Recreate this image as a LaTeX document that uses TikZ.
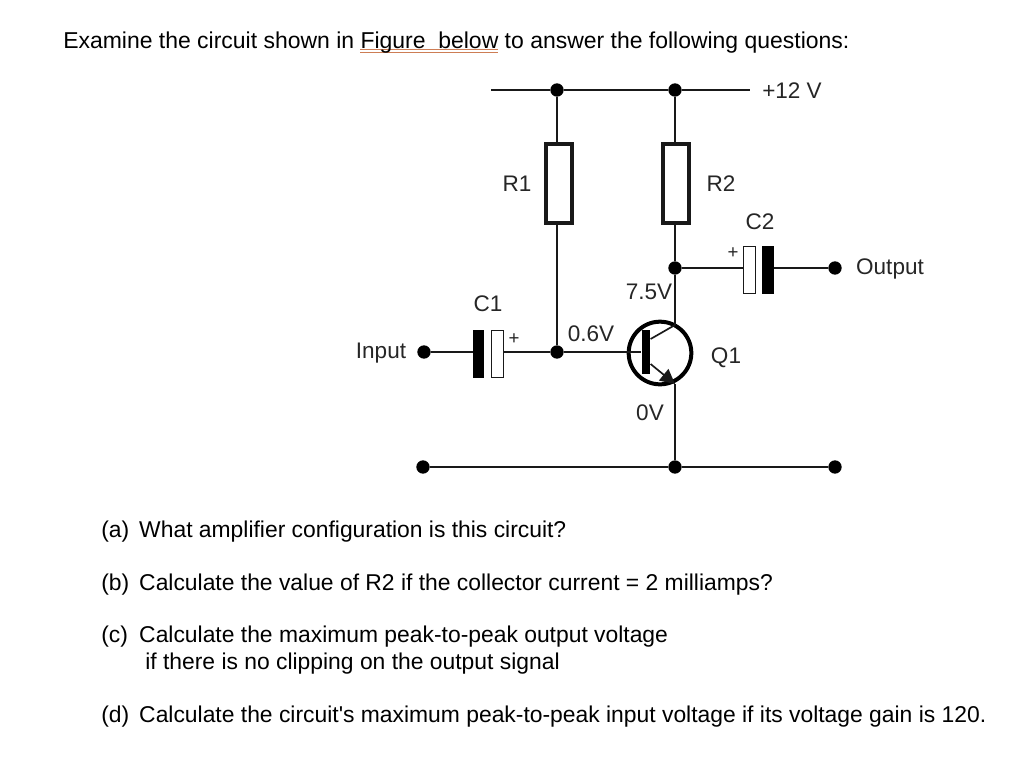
\documentclass[tikz,border=0pt]{standalone}
\usepackage{fontspec}
\setmainfont{Liberation Sans}
\newfontfamily\plainapos{Liberation Sans}
\usetikzlibrary{arrows.meta}
\definecolor{squig}{RGB}{205,125,85}
\tikzset{
  x=0.75pt,y=-0.75pt,
  wire/.style={line width=1.25pt,draw=black!90},
  dotn/.style={circle,fill=black,inner sep=0pt,minimum size=10pt},
  res/.style={rectangle,draw=black!90,line width=3pt,fill=white,minimum width=20pt,minimum height=59pt,inner sep=0pt},
  whiteplate/.style={rectangle,draw=black!90,line width=0.9pt,fill=white,minimum width=9pt,minimum height=35pt,inner sep=0pt},
  blackplate/.style={rectangle,fill=black,minimum width=8.5pt,minimum height=36pt,inner sep=0pt},
  lab/.style={inner sep=0pt,text=black!85,font=\fontsize{16.9}{18}\selectfont},
  para/.style={inner sep=0pt,anchor=base west,text=black,font=\fontsize{17.15}{18}\selectfont},
}
\newcommand{\qtag}[1]{\makebox[28.5pt][l]{#1}}
\begin{document}
\begin{tikzpicture}
\useasboundingbox (0,0) rectangle (1024,779);
\fill[white] (0,0) rectangle (1024,779);

% underline beneath the text
\coordinate (ua) at (360,49); \coordinate (ub) at (498,49);
\coordinate (uc) at (360,52); \coordinate (ud) at (498,52);
\draw[line width=0.7pt,draw=squig] (ua) -- (ub);
\draw[line width=0.7pt,draw=squig] (uc) -- (ud);

% text
\node[para,font=\fontsize{17.22}{18}\selectfont] (t0) at (63,48) {Examine the circuit shown in Figure\ \ below to answer the following questions:};
\node[para] (qa) at (101,537) {\qtag{(a)}What amplifier configuration is this circuit?};
\node[para] (qb) at (101,590) {\qtag{(b)}Calculate the value of R2 if the collector current = 2 milliamps?};
\node[para] (qc) at (101,642) {\qtag{(c)}Calculate the maximum peak-to-peak output voltage};
\node[para] (qc2) at (145,669) {if there is no clipping on the output signal};
\node[para] (qd) at (101,722) {\qtag{(d)}Calculate the circuit{\plainapos '}s maximum peak-to-peak input voltage if its voltage gain is 120.};

% rails
\coordinate (railL) at (491,90);
\coordinate (railR) at (750,90);
\node[dotn] (top1) at (557,90) {};
\node[dotn] (top2) at (675,90) {};
\draw[wire] (railL) -- (top1) -- (top2) -- (railR);
\node[dotn] (gndL) at (423,467) {};
\node[dotn] (gndM) at (675,467) {};
\node[dotn] (gndR) at (835,467) {};
\draw[wire] (gndL) -- (gndM) -- (gndR);

% junctions and terminals
\node[dotn] (base) at (557,352) {};
\node[dotn] (coll) at (675,268) {};
\node[dotn] (inp) at (424,352) {};
\node[dotn] (out) at (835,268) {};

% resistors
\node[res] (R1) at (559,183.5) {};
\node[res] (R2) at (676,183.5) {};
\draw[wire] (top1) -- (557,143);
\draw[wire] (557,224) -- (base);
\draw[wire] (top2) -- (675,143);
\draw[wire] (675,224) -- (coll);

% C1
\node[blackplate] (c1b) at (478.5,354) {};
\node[whiteplate] (c1w) at (497.5,354) {};
\draw[wire] (inp) -- (c1b.west |- inp);
\draw[wire] (c1w.east |- base) -- (base);

% C2
\node[whiteplate] (c2w) at (749.5,270) {};
\node[blackplate] (c2b) at (768,270) {};
\draw[wire] (coll) -- (c2w.west |- coll);
\draw[wire] (c2b.east |- out) -- (out);

% transistor
\node[circle,draw=black,line width=3pt,minimum size=47pt,inner sep=0pt,fill=white] (Q) at (660,353) {};
\node[rectangle,fill=black,minimum width=6.5pt,minimum height=33pt,inner sep=0pt] (bar) at (646,352) {};
\coordinate (cTop) at (675,325);
\coordinate (eBot) at (675,384);
\draw[wire] (base) -- (bar.west |- base);
\draw[wire] (bar.east |- 0,339) -- (cTop);
\draw[wire,-{Triangle[length=11pt,width=11pt]}] (bar.east |- 0,364) -- (eBot);
\draw[wire] (coll) -- (cTop);
\draw[wire] (eBot) -- (gndM);

% labels
\node[lab] (lv) at (792,91) {+12 V};
\node[lab] (lr1) at (517,184) {R1};
\node[lab] (lr2) at (721,184) {R2};
\node[lab] (lc2) at (760,222) {C2};
\node[lab] (lout) at (890,269) {Output};
\node[lab] (l75) at (649,292) {7.5V};
\node[lab] (lc1) at (488,304) {C1};
\node[lab] (l06) at (591,334) {0.6V};
\node[lab] (lin) at (381,353) {Input};
\node[lab] (lq) at (726,358) {Q1};
\node[lab] (l0) at (650,413) {0V};
\node[lab,font=\fontsize{14}{14}\selectfont] (pc1) at (514,339) {+};
\node[lab,font=\fontsize{14}{14}\selectfont] (pc2) at (733,253) {+};
\end{tikzpicture}
\end{document}
